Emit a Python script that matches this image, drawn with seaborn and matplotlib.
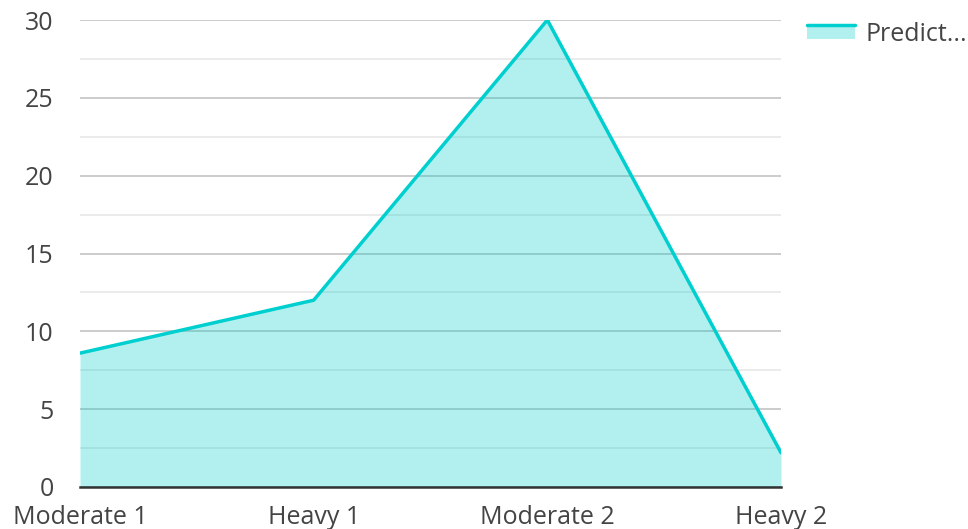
import matplotlib
matplotlib.use("Agg")
import matplotlib.pyplot as plt
import pandas as pd
import seaborn as sns
from matplotlib.legend_handler import HandlerBase
from matplotlib.patches import Rectangle
from matplotlib.lines import Line2D

# Data
categories = ["Moderate 1", "Heavy 1", "Moderate 2", "Heavy 2"]
predicted = [8.6, 12, 30, 2.2]
series_name = "Predict..."

line_color = "#00CFCF"
text_color = "#444444"

df = pd.DataFrame({"pos": range(len(categories)), "value": predicted})

sns.set_style("white")
plt.rcParams["font.family"] = ["Open Sans", "DejaVu Sans"]

fig = plt.figure(figsize=(9.68, 5.29), dpi=100)
ax = fig.add_axes([80 / 968, 1 - 487 / 529, (781 - 80) / 968, (487 - 20) / 529])

# semi-transparent fill so the grid shows through
ax.fill_between(df["pos"], df["value"], 0, color=line_color, alpha=0.3, linewidth=0, zorder=2)
sns.lineplot(data=df, x="pos", y="value", color=line_color, linewidth=2.5, ax=ax, zorder=3)

ax.set_xlim(0, len(categories) - 1)
ax.set_ylim(0, 30)
ax.set_yticks([0, 5, 10, 15, 20, 25, 30])
ax.set_yticks([2.5, 7.5, 12.5, 17.5, 22.5, 27.5], minor=True)
ax.set_xticks(df["pos"])
ax.set_xticklabels(categories)

ax.grid(axis="y", which="major", color="#C4C4C4", linewidth=1.2, zorder=1)
ax.grid(axis="y", which="minor", color="#E8E8E8", linewidth=1.2, zorder=1)
ax.set_axisbelow(True)

for s in ["top", "right", "left"]:
    ax.spines[s].set_visible(False)
ax.spines["bottom"].set_color("#333333")
ax.spines["bottom"].set_linewidth(1.8)
ax.spines["bottom"].set_zorder(4)

ax.tick_params(axis="both", which="both", length=0, labelsize=18, labelcolor=text_color)
ax.tick_params(axis="y", pad=19)
ax.tick_params(axis="x", pad=13)
ax.set_xlabel("")
ax.set_ylabel("")


class AreaHandler(HandlerBase):
    def create_artists(self, legend, orig_handle, xdescent, ydescent,
                       width, height, fontsize, trans):
        rect = Rectangle((-xdescent, -ydescent), width, height,
                         facecolor=line_color, alpha=0.3, edgecolor="none", transform=trans)
        ln = Line2D([-xdescent, -xdescent + width], [-ydescent + height, -ydescent + height],
                    color=line_color, linewidth=2.5, transform=trans)
        return [rect, ln]


handle = Rectangle((0, 0), 1, 1)
fig.legend([handle], [series_name], handler_map={Rectangle: AreaHandler()},
           loc="upper left", bbox_to_anchor=(807 / 968, 1 - 22 / 529),
           borderaxespad=0, borderpad=0,
           frameon=False, fontsize=18, labelcolor=text_color,
           handlelength=1.92, handleheight=0.5, handletextpad=0.44)

fig.savefig("out.png", dpi=100)
